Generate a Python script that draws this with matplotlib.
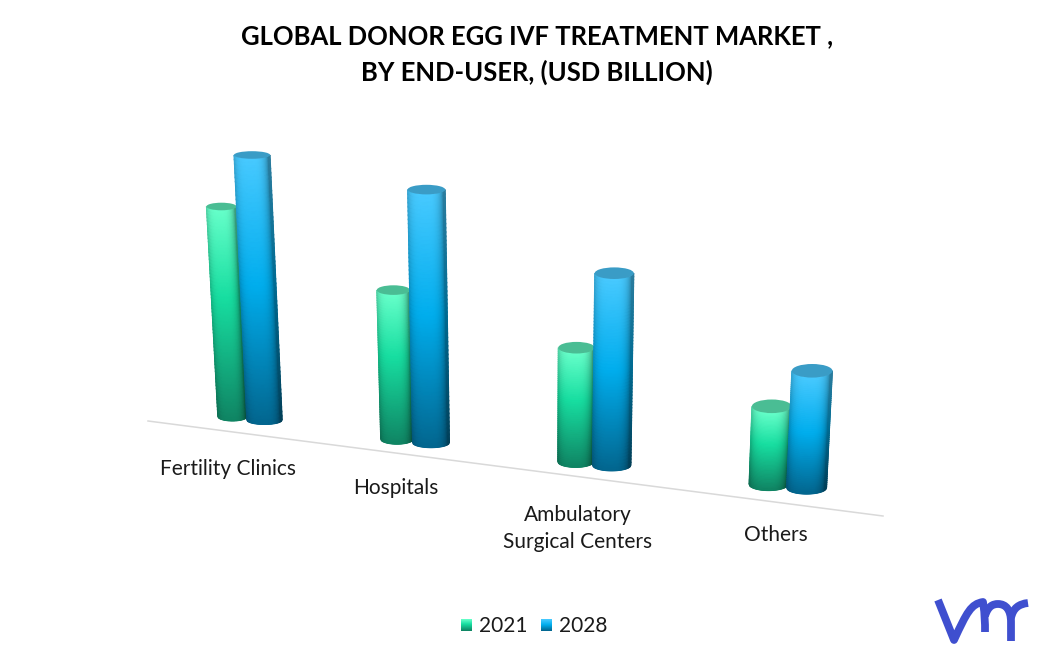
import numpy as np
import matplotlib
matplotlib.use("Agg")
import matplotlib.pyplot as plt
from matplotlib.patches import Ellipse, PathPatch
from matplotlib.path import Path

# ---- data (no value axis, so units are relative) ----
categories = ["Fertility Clinics", "Hospitals", "Ambulatory\nSurgical Centers", "Others"]
years = ["2021", "2028"]
values_2021 = [2.10, 1.49, 1.14, 0.78]
values_2028 = [2.65, 2.53, 1.92, 1.17]
title = "GLOBAL DONOR EGG IVF TREATMENT MARKET ,\nBY END-USER, (USD BILLION)"

plt.rcParams["font.family"] = ["Lato", "DejaVu Sans"]
fig = plt.figure(figsize=(10.60, 6.58), dpi=100)
ax = fig.add_axes([0, 0, 1, 1])
ax.set_xlim(0, 1060)
ax.set_ylim(658, 0)
ax.axis("off")

# ---- projection of the 3D scene onto the page ----
PX_PER_UNIT = 100.0
VANISH_X, CONVERGE = 535.0, 0.000174


def project(i, series):
    """category index + series index -> base centre, width, ellipse radii"""
    bx = 232.5 + 157.4 * i + 7.1 * i ** 2
    by = 416.5 + 22.6 * i
    if series == 1:
        bx += 32 + 2 * i
        by += 3.5
        w = 35.5 + 1.5 * i
    else:
        w = 29.5 + 3.2 * i
    return bx, by, w, 3.8 + 1.0 * i, 4.5 + 0.6 * i


STOPS = {
    0: ([0, .42, 1], [(0.40, 1.00, 0.79), (0.09, 0.87, 0.63), (0.06, 0.52, 0.39)], "#4abd94"),
    1: ([0, .48, 1], [(0.28, 0.79, 1.00), (0.00, 0.68, 0.93), (0.01, 0.40, 0.56)], "#3a9cc6"),
}


def shade(series, nu, nv):
    pos, cols, _ = STOPS[series]
    v = np.linspace(0, 1, nv)
    base = np.stack([np.interp(v, pos, [c[k] for c in cols]) for k in range(3)], axis=1)
    u = np.linspace(-1, 1, nu)
    prof = 0.62 + 0.38 * np.clip(1 - ((u + 0.12) / 1.02) ** 4, 0, 1) ** 0.8
    return np.clip(base[:, None, :] * prof[None, :, None], 0, 1)


def cylinder(i, series, value):
    bx, by, w, ry_top, ry_bot = project(i, series)
    h = value * PX_PER_UNIT
    tx = bx + (bx - VANISH_X) * CONVERGE * h
    ty = by - h
    wt = w + 0.6
    nu, nv = 41, 61
    U, V = np.meshgrid(np.linspace(-1, 1, nu), np.linspace(0, 1, nv))
    arc = np.sqrt(1 - U ** 2)
    W = wt + (w - wt) * V
    X = tx + (bx - tx) * V + U * W / 2
    Y = ty + ry_top * arc + (by + ry_bot * arc - ty - ry_top * arc) * V
    z = 3 + series + 0.01 * i
    ax.pcolormesh(X, Y, shade(series, nu, nv), shading="gouraud", zorder=z)
    ax.add_patch(Ellipse((tx, ty), wt, 2 * ry_top, facecolor=STOPS[series][2],
                         edgecolor="none", zorder=z + 0.001))


for s, vals in enumerate([values_2021, values_2028]):
    for i, val in enumerate(vals):
        cylinder(i, s, val)

# ---- floor line ----
ax.plot([148, 883], [421, 516], color="#d9d9d9", lw=1.1, zorder=1)

# ---- text ----
ax.text(537, 54.5, title, ha="center", va="center", fontsize=18.45, fontweight="bold",
        color="black", linespacing=1.58, zorder=6)
label_pos = [(228, 469), (396, 488), (578, 528.5), (776, 535)]
for lab, (x, y) in zip(categories, label_pos):
    ax.text(x, y, lab, ha="center", va="center", fontsize=15, color="#1a1a1a",
            linespacing=1.46, zorder=6)

# ---- legend ----
for s, (yr, mx) in enumerate(zip(years, [461, 541])):
    pos, cols, _ = STOPS[s]
    v = np.linspace(0, 1, 20)
    g = np.stack([np.interp(v, pos, [c[k] for c in cols]) for k in range(3)], axis=1)[:, None, :]
    ax.imshow(g, extent=(mx, mx + 11, 631, 619), aspect="auto", zorder=5)
    ax.text(mx + 18 + s * 0.5, 625.5, yr, ha="left", va="center", fontsize=15, color="#1a1a1a", zorder=6)
ax.set_xlim(0, 1060)
ax.set_ylim(658, 0)

# ---- logo ----
blue = "#3f4fcf"
LW = 5.6
M, L, C = Path.MOVETO, Path.LINETO, Path.CURVE4
logo_strokes = [
    Path([(938, 600), (954, 640), (967, 612), (971, 604), (983, 602), (985, 616), (985, 622), (985, 632)],
         [M, L, C, C, C, C, C, C]),
    Path([(985, 616), (988, 606), (993, 604), (998, 604), (1006, 604), (1011, 610), (1011, 622), (1011, 641)],
         [M, C, C, C, C, C, C, L]),
    Path([(1011, 618), (1013, 608), (1019, 604), (1028, 603)], [M, C, C, C]),
]
for p in logo_strokes:
    ax.add_patch(PathPatch(p, facecolor="none", edgecolor=blue, lw=LW, capstyle="butt",
                           joinstyle="round", zorder=6))

fig.savefig("out.png", dpi=100, facecolor="white")
